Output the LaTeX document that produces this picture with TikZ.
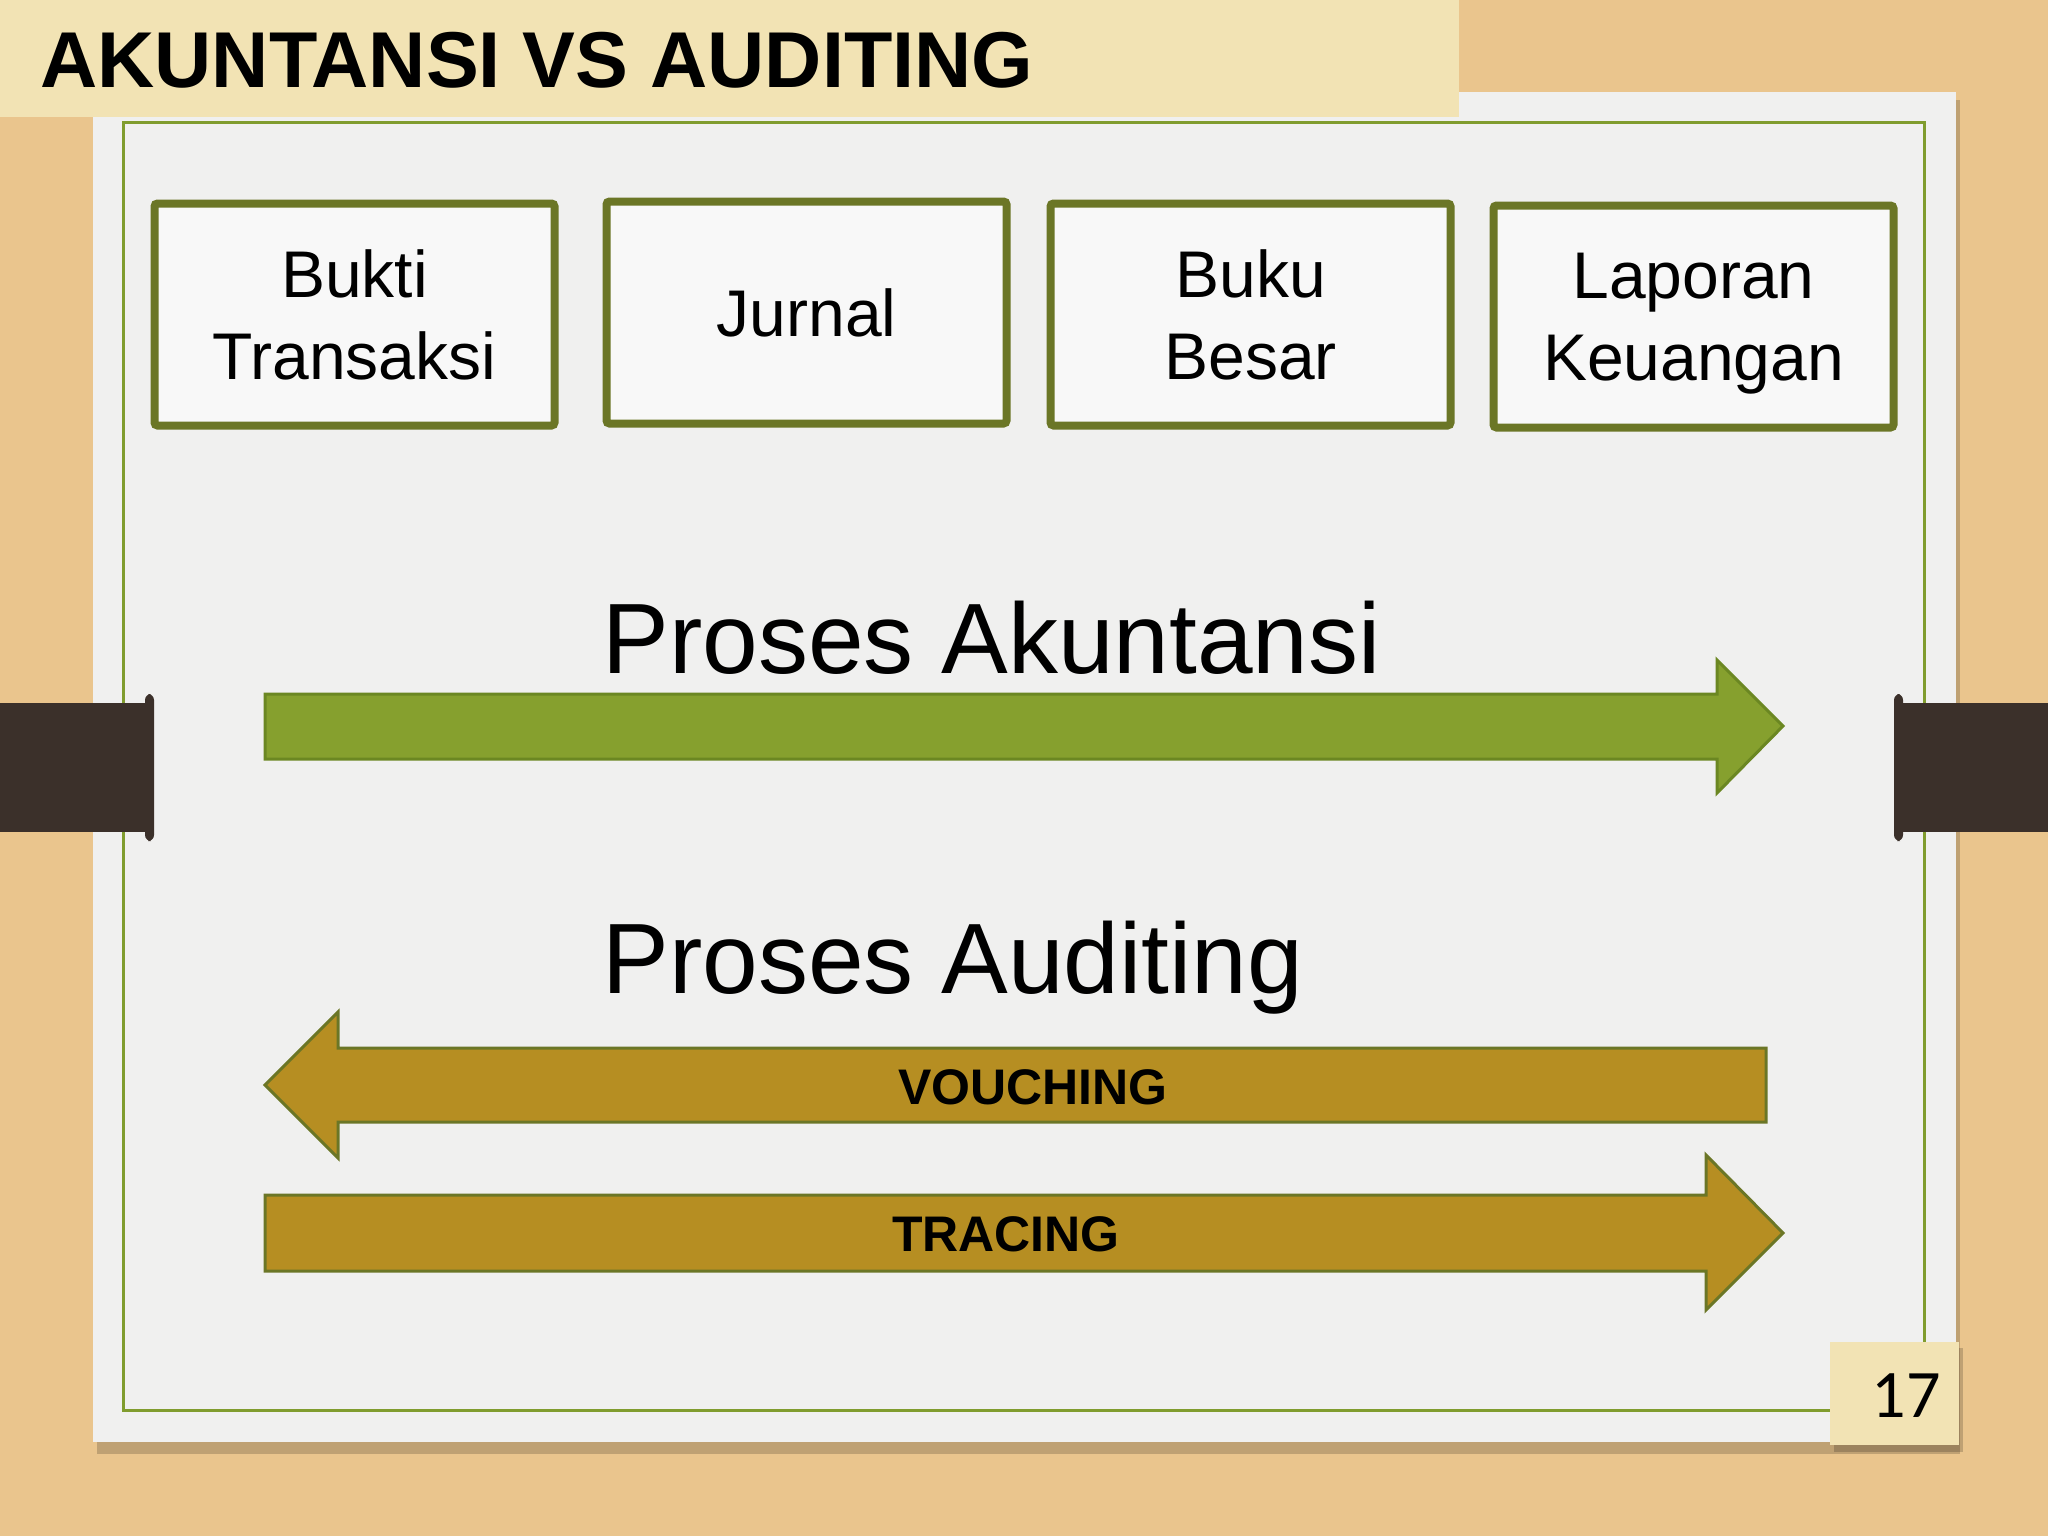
\documentclass[tikz,border=0pt]{standalone}
\usepackage{fontspec}
\setmainfont{Liberation Sans}
\newfontfamily\pagefont{Carlito}
\definecolor{wood}{HTML}{EAC58D}
\definecolor{notepad}{HTML}{F2E3B4}
\definecolor{sheet}{HTML}{F0F0EF}
\definecolor{frame}{HTML}{809C2E}
\definecolor{olive}{HTML}{6B7626}
\definecolor{leaf}{HTML}{86A02E}
\definecolor{leafedge}{HTML}{6B8722}
\definecolor{gold}{HTML}{B68E22}
\definecolor{clipbrown}{HTML}{3B302A}
\tikzset{
  stepbox/.style={draw=olive, line width=4pt, fill=white!55!sheet,
    minimum width=200pt, minimum height=111pt, align=center, text depth=0pt,
    rounded corners=1.5pt, font=\fontsize{33}{41}\selectfont},
  bigtext/.style={anchor=base west, inner sep=0pt, font=\fontsize{50}{60}\selectfont},
  bartext/.style={anchor=base, inner sep=0pt, font=\bfseries\fontsize{25}{30}\selectfont},
  shade/.style={fill=black, opacity=.18}
}
\begin{document}
\begin{tikzpicture}[x=0.5pt,y=-0.5pt]
\useasboundingbox (0,0) rectangle (2048,1536);
\fill[wood] (0,0) rectangle (2048,1536);
% paper sheet
\fill[shade] (97,100) rectangle (1960,1454);
\fill[sheet] (93,92) rectangle (1956,1442);
\draw[frame, line width=1.5pt] (123,122) rectangle (1924,1410);
% title strip
\fill[notepad] (0,0) rectangle (1459,117);
\node[anchor=base west, inner sep=0pt, font=\bfseries\fontsize{39.6}{48}\selectfont]
  (title) at (40,88) {AKUNTANSI VS AUDITING};
% clips
\fill[clipbrown] (0,703) rectangle (153,832);
\fill[clipbrown, rounded corners=3pt] (145,694) rectangle (154,841);
\fill[clipbrown] (1895,703) rectangle (2048,832);
\fill[clipbrown, rounded corners=3pt] (1894,694) rectangle (1903,841);
% boxes
\node[stepbox] (bukti)   at (354.5,314.5) {Bukti\\Transaksi};
\node[stepbox] (jurnal)  at (806.5,312.5) {Jurnal};
\node[stepbox] (besar)   at (1250.5,314.5) {Buku\\Besar};
\node[stepbox] (laporan) at (1693.5,316.5) {Laporan\\Keuangan};
% accounting arrow
\node[bigtext] (akun) at (602,673) {Proses Akuntansi};
\draw[leafedge, fill=leaf, line width=1.5pt]
  (265,694) -- (1717,694) -- (1717,660) -- (1783,726)
  -- (1717,793) -- (1717,759) -- (265,759) -- cycle;
% auditing arrows
\node[bigtext] (audit) at (602,993) {Proses Auditing};
\draw[olive, fill=gold, line width=1.5pt]
  (1766,1048) -- (338,1048) -- (338,1012) -- (265,1085)
  -- (338,1158) -- (338,1122) -- (1766,1122) -- cycle;
\node[bartext] (vouch) at (1033,1104) {VOUCHING};
\draw[olive, fill=gold, line width=1.5pt]
  (265,1195) -- (1706,1195) -- (1706,1155) -- (1783,1233)
  -- (1706,1310) -- (1706,1271) -- (265,1271) -- cycle;
\node[bartext] (trace) at (1006,1251) {TRACING};
% page number
\fill[shade] (1834,1348) rectangle (1963,1452);
\fill[notepad] (1830,1342) rectangle (1959,1445);
\node[anchor=base, inner sep=0pt, font=\pagefont\fontsize{34}{40}\selectfont]
  (page) at (1906,1417) {17};
\end{tikzpicture}
\end{document}
